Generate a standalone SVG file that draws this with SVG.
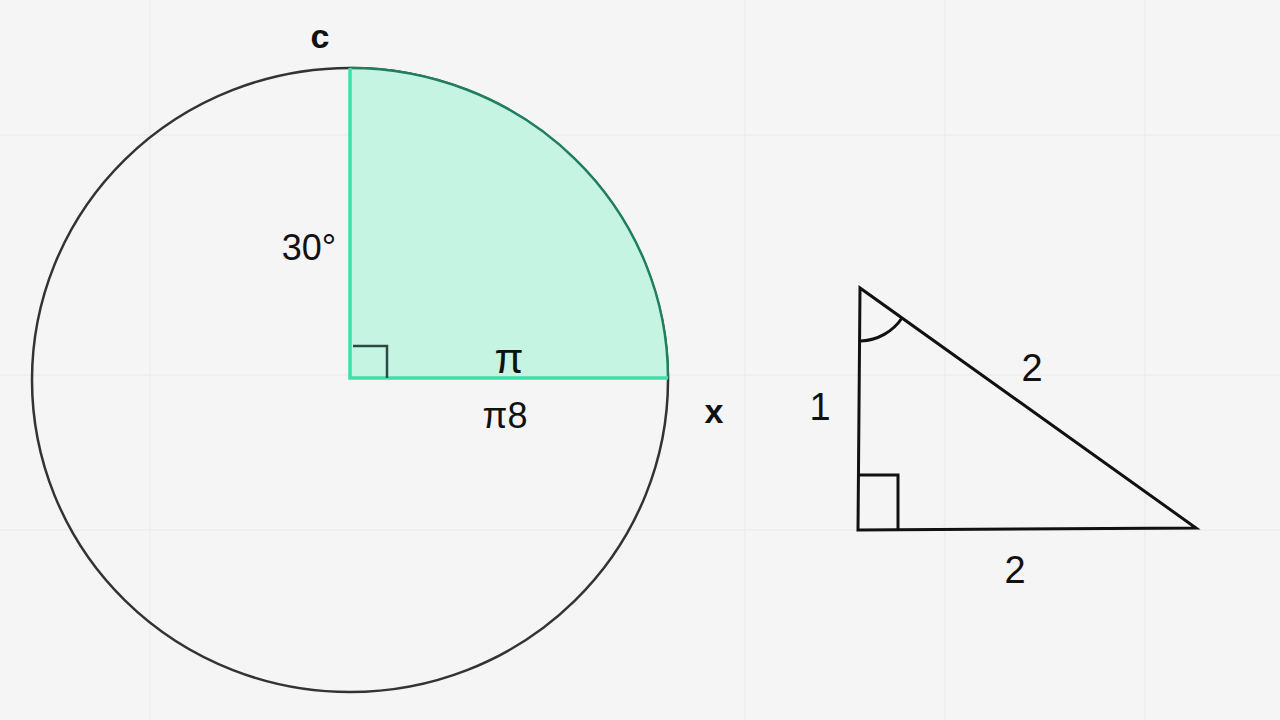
<svg xmlns="http://www.w3.org/2000/svg" width="1280" height="720" viewBox="0 0 1280 720">
<style>
.grid{stroke:#ececec;stroke-width:1.5;fill:none}
.lbl{font-family:"Liberation Sans","DejaVu Sans",sans-serif;fill:#111;text-anchor:middle}
.blk{stroke:#111;stroke-width:3;fill:none;stroke-linejoin:miter}
</style>
<rect width="1280" height="720" fill="#f5f5f5"/>
<g id="grid">
<line class="grid" x1="150" y1="0" x2="150" y2="720"/>
<line class="grid" x1="745" y1="0" x2="745" y2="720"/>
<line class="grid" x1="945" y1="0" x2="945" y2="720"/>
<line class="grid" x1="1145" y1="0" x2="1145" y2="720"/>
<line class="grid" x1="0" y1="135" x2="1280" y2="135"/>
<line class="grid" x1="0" y1="375" x2="1280" y2="375"/>
<line class="grid" x1="0" y1="530" x2="1280" y2="530"/>
</g>
<g id="circle">
<ellipse cx="350" cy="380" rx="318" ry="312" fill="none" stroke="#333" stroke-width="2.5"/>
</g>
<g id="sector">
<path d="M350,378 L350,68 A318,310 0 0 1 668,378 Z" fill="#c6f4e2" stroke="none"/>
<path d="M350,68 A318,310 0 0 1 668,378" fill="none" stroke="#1f7f60" stroke-width="2.5"/>
<path d="M350,68 L350,378 L668,378" fill="none" stroke="#3ee0a8" stroke-width="3.5"/>
<path d="M353,346 L387,346 L387,378" fill="none" stroke="#2c4a44" stroke-width="2.5"/>
</g>
<g id="triangle">
<path class="blk" d="M860,288 L858,530 L1196,528 Z"/>
<path class="blk" d="M858,475 L898,475 L898,530"/>
<path class="blk" d="M861,341 A52,52 0 0 0 902,318"/>
</g>
<g id="labels">
<text class="lbl" x="320" y="48" font-size="34" font-weight="bold">c</text>
<text class="lbl" x="309" y="260" font-size="36">30°</text>
<text class="lbl" x="509" y="373" font-size="42" font-family="DejaVu Serif">π</text>
<text class="lbl" x="505" y="428" font-size="36" font-family="DejaVu Sans">π8</text>
<text class="lbl" x="714" y="423" font-size="34" font-weight="bold">x</text>
<text class="lbl" x="1032" y="381" font-size="38">2</text>
<text class="lbl" x="820" y="420" font-size="38">1</text>
<text class="lbl" x="1015" y="583" font-size="38">2</text>
</g>
</svg>
